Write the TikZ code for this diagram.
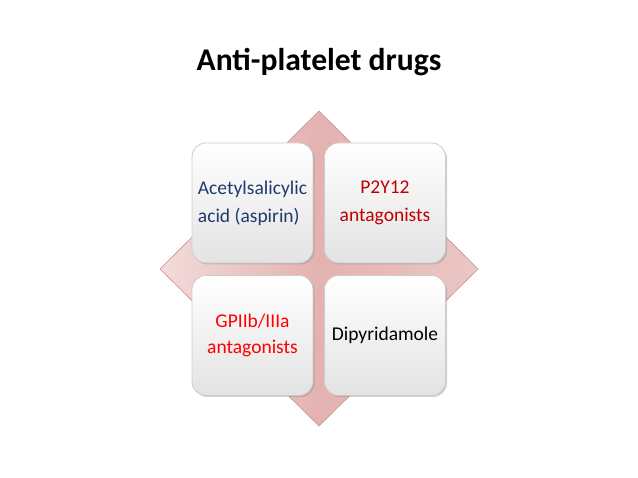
\documentclass[tikz,border=0pt]{standalone}
\usepackage{fontspec}
\setmainfont{Carlito}
\usetikzlibrary{shadows}
\definecolor{dblue}{HTML}{1F3A6E}
\definecolor{dred}{HTML}{C00000}
\definecolor{bred}{HTML}{FF0000}
\definecolor{pinkd}{HTML}{D99694}
\definecolor{pinkl}{HTML}{F2DCDB}
\begin{document}
\begin{tikzpicture}[x=1pt,y=-1pt,
  cell/.style={rounded corners=14pt, draw=gray!40, line width=0.8pt,
    top color=white, bottom color=gray!22, drop shadow={opacity=0.35,shadow xshift=1.5pt,shadow yshift=-1.5pt},
    minimum width=121pt, minimum height=120pt, inner sep=3pt, align=center, font=\fontsize{19.5}{28}\selectfont}]
\useasboundingbox (0,0) rectangle (638,478);
\fill[white] (0,0) rectangle (638,478);
\node[font=\fontsize{31.6}{36}\selectfont\bfseries] (title) at (319,62) {Anti-platelet drugs};
\path[draw=pinkd!80!gray, line width=0.6pt, left color=pinkl, right color=pinkl!70!pinkd, middle color=pinkd!60!pinkl]
  (319,111) coordinate (dt) -- (478,269) coordinate (dr) -- (319,426) coordinate (db) -- (160,269) coordinate (dl) -- cycle;
\node[cell, text=dblue, align=left] (a) at (252.5,203) {Acetylsalicylic\\acid (aspirin)};
\node[cell, text=dred] (b) at (385,203) {P2Y12\\antagonists};
\node[cell, text=bred] (c) at (252.5,335.5) {\raisebox{-2pt}{GPIIb/IIIa}\\antagonists};
\node[cell, text=black] (d) at (385,335.5) {Dipyridamole};
\end{tikzpicture}
\end{document}
